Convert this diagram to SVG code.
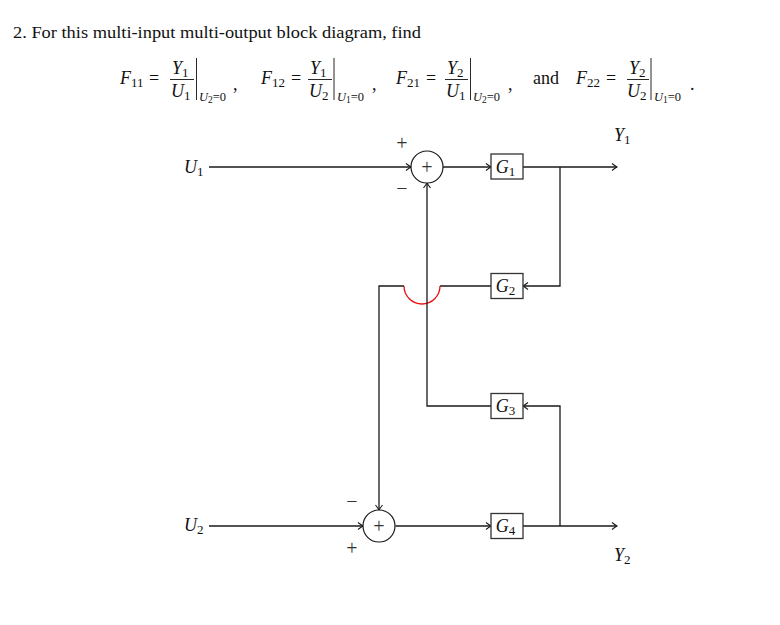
<svg xmlns="http://www.w3.org/2000/svg" width="780" height="625" viewBox="0 0 780 625">
<style>
text{font-family:"Liberation Serif","Times New Roman",serif;fill:#111;}
.i{font-style:italic;}
.t{font-size:17.5px;}
.m{font-size:18px;}
.s{font-size:13px;}
.ss{font-size:12.5px;}
.sss{font-size:9.5px;}
.ln{fill:none;stroke:#1a1a1a;stroke-width:1.3;}
.box{fill:#fff;stroke:#333;stroke-width:1.3;}
.sum{fill:#fff;stroke:#1a1a1a;stroke-width:1.2;}
.jump{fill:none;stroke:#e81010;stroke-width:1.3;}
.sg{font-size:20px;fill:#333;}
.bar{stroke:#111;stroke-width:0.9;}
</style>
<defs>
<marker id="arr" viewBox="-6 -4 7 8" refX="0" refY="0" markerWidth="7" markerHeight="8" orient="auto" markerUnits="userSpaceOnUse">
<path d="M-5,-3.5 Q-1.5,-0.8 0,0 Q-1.5,0.8 -5,3.5" fill="none" stroke="#1a1a1a" stroke-width="1.1"/>
</marker>
</defs>
<rect width="780" height="625" fill="#fff"/>

<g id="title">
<text x="13" y="38" class="t" textLength="408" lengthAdjust="spacingAndGlyphs">2. For this multi-input multi-output block diagram, find</text>
</g>

<g id="equations">
<!-- F11 -->
<text x="120" y="84" class="m"><tspan class="i">F</tspan><tspan class="s" dy="3">11</tspan></text>
<text x="149" y="84" class="m">=</text>
<text x="172" y="74" class="m"><tspan class="i">Y</tspan><tspan class="s" dy="3">1</tspan></text>
<line class="bar" x1="170" y1="79.5" x2="194" y2="79.5"/>
<text x="171" y="97" class="m"><tspan class="i">U</tspan><tspan class="s" dy="3">1</tspan></text>
<line class="bar" x1="196.5" y1="58" x2="196.5" y2="100"/>
<text x="199" y="101" class="ss"><tspan class="i">U</tspan><tspan class="sss" dy="2">2</tspan><tspan dy="-2">=0</tspan></text>
<text x="233" y="90" class="m">,</text>

<!-- F12 -->
<text x="261" y="84" class="m"><tspan class="i">F</tspan><tspan class="s" dy="3">12</tspan></text>
<text x="291" y="84" class="m">=</text>
<text x="310" y="74" class="m"><tspan class="i">Y</tspan><tspan class="s" dy="3">1</tspan></text>
<line class="bar" x1="308" y1="79.5" x2="332" y2="79.5"/>
<text x="309" y="97" class="m"><tspan class="i">U</tspan><tspan class="s" dy="3">2</tspan></text>
<line class="bar" x1="334" y1="58" x2="334" y2="100"/>
<text x="337" y="101" class="ss"><tspan class="i">U</tspan><tspan class="sss" dy="2">1</tspan><tspan dy="-2">=0</tspan></text>
<text x="372" y="90" class="m">,</text>

<!-- F21 -->
<text x="396" y="84" class="m"><tspan class="i">F</tspan><tspan class="s" dy="3">21</tspan></text>
<text x="426" y="84" class="m">=</text>
<text x="447" y="74" class="m"><tspan class="i">Y</tspan><tspan class="s" dy="3">2</tspan></text>
<line class="bar" x1="445" y1="79.5" x2="468" y2="79.5"/>
<text x="446" y="97" class="m"><tspan class="i">U</tspan><tspan class="s" dy="3">1</tspan></text>
<line class="bar" x1="470.5" y1="58" x2="470.5" y2="100"/>
<text x="473" y="101" class="ss"><tspan class="i">U</tspan><tspan class="sss" dy="2">2</tspan><tspan dy="-2">=0</tspan></text>
<text x="508" y="90" class="m">,</text>

<text x="533" y="84" class="m">and</text>

<!-- F22 -->
<text x="576" y="84" class="m"><tspan class="i">F</tspan><tspan class="s" dy="3">22</tspan></text>
<text x="606" y="84" class="m">=</text>
<text x="629" y="74" class="m"><tspan class="i">Y</tspan><tspan class="s" dy="3">2</tspan></text>
<line class="bar" x1="627" y1="79.5" x2="649" y2="79.5"/>
<text x="627" y="97" class="m"><tspan class="i">U</tspan><tspan class="s" dy="3">2</tspan></text>
<line class="bar" x1="651" y1="58" x2="651" y2="100"/>
<text x="654" y="101" class="ss"><tspan class="i">U</tspan><tspan class="sss" dy="2">1</tspan><tspan dy="-2">=0</tspan></text>
<text x="690" y="90" class="m">.</text>
</g>

<g id="connectors">
<path class="ln" d="M209,167 H411" marker-end="url(#arr)"/>
<path class="ln" d="M443,167 H491" marker-end="url(#arr)"/>
<path class="ln" d="M523,167 H617" marker-end="url(#arr)"/>
<path class="ln" d="M560,167 V286 H523" marker-end="url(#arr)"/>
<path class="ln" d="M491,286 H440"/>
<path class="jump" d="M440,286 A18,18 0 0 1 404,286"/>
<path class="ln" d="M404,286 H379 V510" marker-end="url(#arr)"/>
<path class="ln" d="M560,526 V406 H523" marker-end="url(#arr)"/>
<path class="ln" d="M491,406 H427 V183" marker-end="url(#arr)"/>
<path class="ln" d="M209,526 H363" marker-end="url(#arr)"/>
<path class="ln" d="M395.5,526 H491" marker-end="url(#arr)"/>
<path class="ln" d="M523,526 H617" marker-end="url(#arr)"/>
</g>

<g id="U1"><text x="184" y="173" class="m"><tspan class="i">U</tspan><tspan class="s" dy="3">1</tspan></text></g>
<g id="U2"><text x="184" y="531" class="m"><tspan class="i">U</tspan><tspan class="s" dy="3">2</tspan></text></g>
<g id="Y1"><text x="614" y="141" class="m"><tspan class="i">Y</tspan><tspan class="s" dy="3">1</tspan></text></g>
<g id="Y2"><text x="614" y="561" class="m"><tspan class="i">Y</tspan><tspan class="s" dy="3">2</tspan></text></g>

<g id="sum1">
<circle class="sum" cx="427" cy="167" r="16"/>
<text x="427" y="174" text-anchor="middle" class="sg">+</text>
<text x="402" y="150" text-anchor="middle" class="sg">+</text>
<text x="402" y="195" text-anchor="middle" class="sg">−</text>
</g>

<g id="sum2">
<circle class="sum" cx="379" cy="526" r="16"/>
<text x="379" y="533" text-anchor="middle" class="sg">+</text>
<text x="352" y="508" text-anchor="middle" class="sg">−</text>
<text x="352" y="555" text-anchor="middle" class="sg">+</text>
</g>

<g id="G1">
<rect class="box" x="491" y="154" width="32" height="25"/>
<text x="505.5" y="172.5" text-anchor="middle" class="m"><tspan class="i">G</tspan><tspan class="s" dy="3">1</tspan></text>
</g>
<g id="G2">
<rect class="box" x="491" y="273.5" width="32" height="25"/>
<text x="505.5" y="292" text-anchor="middle" class="m"><tspan class="i">G</tspan><tspan class="s" dy="3">2</tspan></text>
</g>
<g id="G3">
<rect class="box" x="491" y="393.5" width="32" height="25"/>
<text x="505.5" y="412" text-anchor="middle" class="m"><tspan class="i">G</tspan><tspan class="s" dy="3">3</tspan></text>
</g>
<g id="G4">
<rect class="box" x="491" y="513.5" width="32" height="25"/>
<text x="505.5" y="532" text-anchor="middle" class="m"><tspan class="i">G</tspan><tspan class="s" dy="3">4</tspan></text>
</g>
</svg>
